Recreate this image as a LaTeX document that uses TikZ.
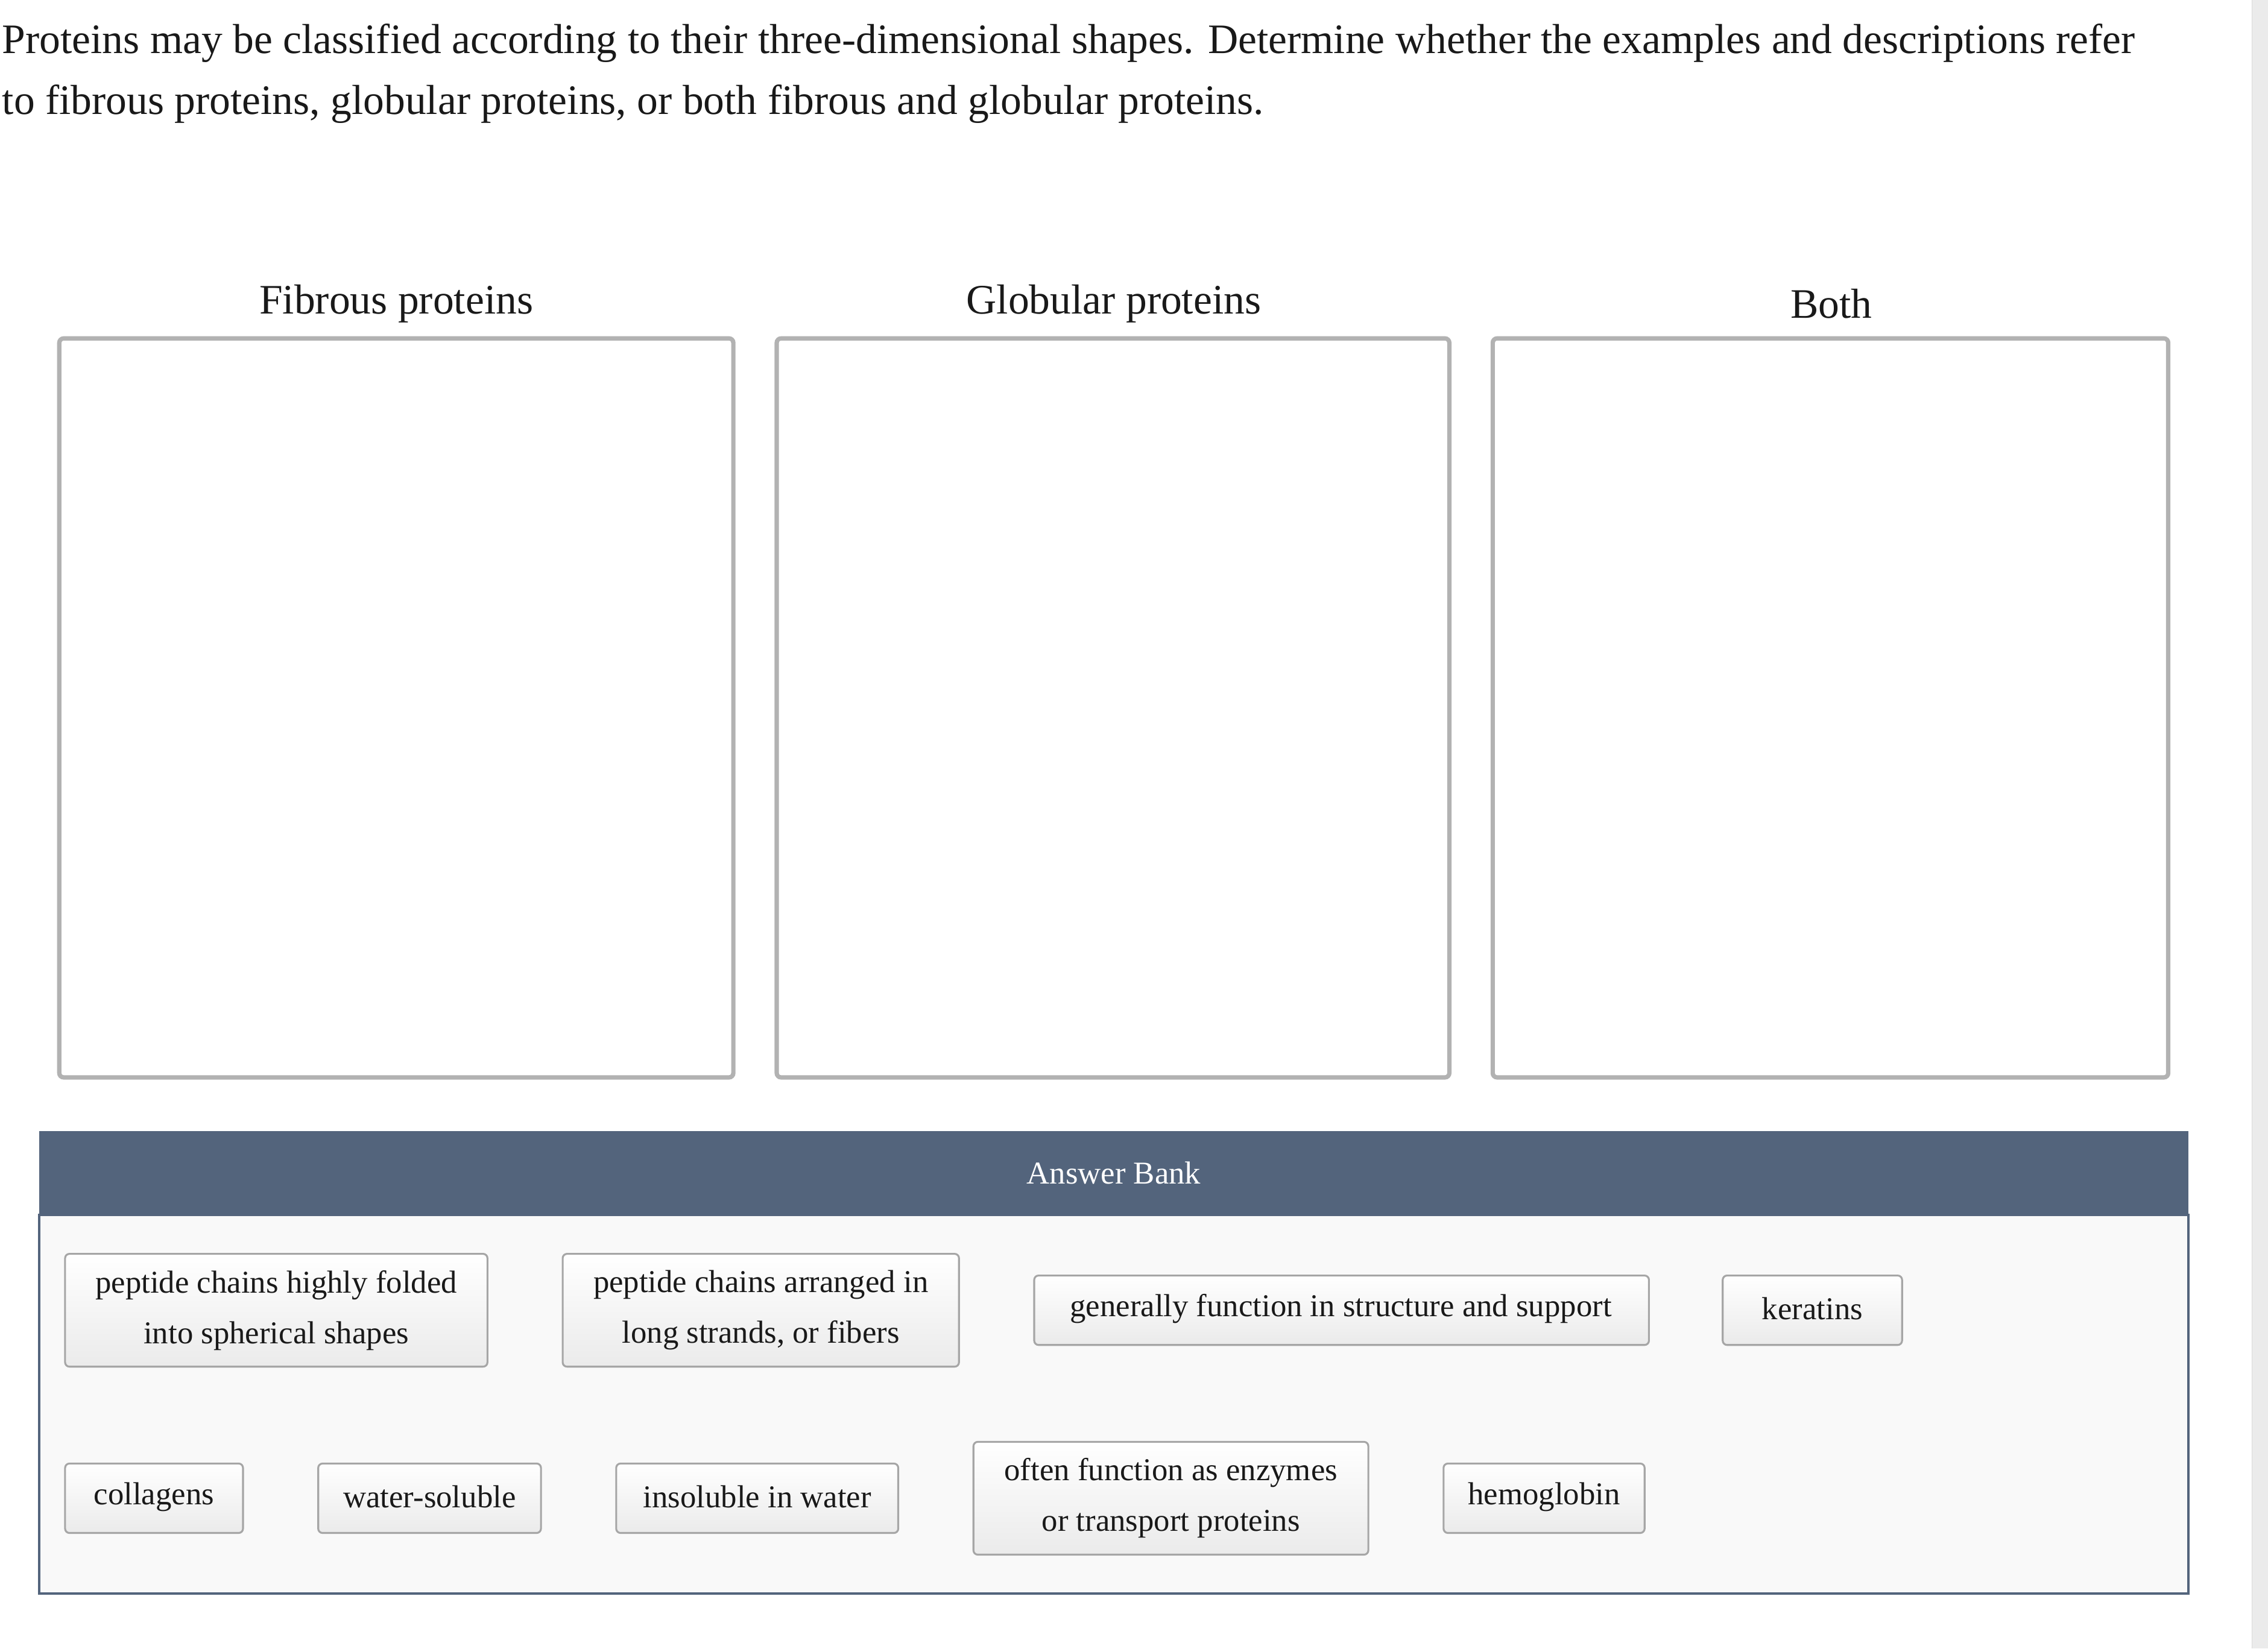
\documentclass[tikz,border=0pt]{standalone}
\usepackage{fontspec}
\setmainfont{Liberation Serif}
\begin{document}
\begin{tikzpicture}[x=1pt,y=-1pt,
  zone/.style={draw=black!30,line width=3pt,rounded corners=3pt},
  chip/.style={draw=black!35,line width=1.3pt,rounded corners=3pt,top color=white,bottom color=black!8},
  chiptext/.style={font=\fontsize{22}{35}\selectfont,align=center,text=black!90},
  head/.style={font=\fontsize{29}{35}\selectfont,text=black!90}]
\useasboundingbox (0,0) rectangle (1568,1140);
\fill[white] (0,0) rectangle (1568,1140);
\fill[black!8] (1557,0) rectangle (1568,1140);
\draw[black!15] (1557,0) -- (1557,1140);
\node[head,anchor=west] (l1) at (-2,30) {Proteins may be classified according to their three-dimensional shapes. Determine whether the examples and descriptions refer};
\node[head,anchor=west] (l2) at (-2,72) {to fibrous proteins, globular proteins, or both fibrous and globular proteins.};
\node[head] (h1) at (274,210) {Fibrous proteins};
\node[head] (h2) at (770,210) {Globular proteins};
\node[head] (h3) at (1266,210) {Both};
\draw[zone] (41,234) rectangle (507,745);
\draw[zone] (537,234) rectangle (1002,745);
\draw[zone] (1032,234) rectangle (1499,745);
\fill[fill={rgb,255:red,83;green,100;blue,124}] (27,782) rectangle (1513,840);
\filldraw[fill={rgb,255:red,249;green,249;blue,249},draw={rgb,255:red,83;green,100;blue,124},line width=1.5pt] (27,840) rectangle (1513,1102);
\node[font=\fontsize{22}{26}\selectfont,text=white] (ab) at (770,811) {Answer Bank};
\draw[chip] (45,867) rectangle (337,945);
\node[chiptext] (c1) at (191,906) {peptide chains highly folded\\into spherical shapes};
\draw[chip] (389,867) rectangle (663,945);
\node[chiptext] (c2) at (526,906) {peptide chains arranged in\\long strands, or fibers};
\draw[chip] (715,882) rectangle (1140,930);
\node[chiptext] (c3) at (927,905) {generally function in structure and support};
\draw[chip] (1191,882) rectangle (1315,930);
\node[chiptext] (c4) at (1253,905) {keratins};
\draw[chip] (45,1012) rectangle (168,1060);
\node[chiptext] (c5) at (106.5,1035) {collagens};
\draw[chip] (220,1012) rectangle (374,1060);
\node[chiptext] (c6) at (297,1035) {water-soluble};
\draw[chip] (426,1012) rectangle (621,1060);
\node[chiptext] (c7) at (523.5,1035) {insoluble in water};
\draw[chip] (673,997) rectangle (946,1075);
\node[chiptext] (c8) at (809.5,1036) {often function as enzymes\\or transport proteins};
\draw[chip] (998,1012) rectangle (1137,1060);
\node[chiptext] (c9) at (1067.5,1035) {hemoglobin};
\end{tikzpicture}
\end{document}
